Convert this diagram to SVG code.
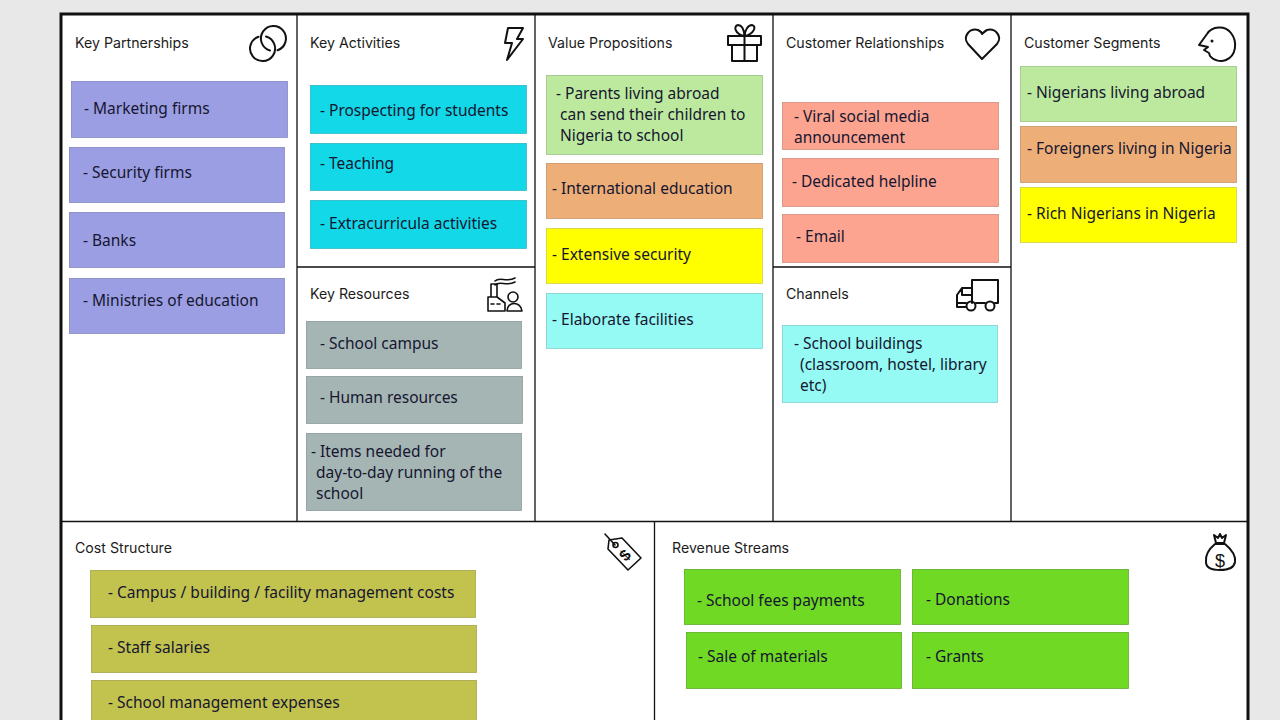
<svg xmlns="http://www.w3.org/2000/svg" width="1280" height="720" viewBox="0 0 1280 720">
<style>
.h{font-family:"Inter","Liberation Sans",sans-serif;font-size:14.2px;fill:#1c1c1c}
.t{font-family:"Noto Sans","Open Sans",sans-serif;font-size:15.5px;fill:#161630}
.ln{stroke:#111;stroke-width:1.3;fill:none}
.ic{stroke:#111;stroke-width:2;fill:none;stroke-linejoin:round;stroke-linecap:round}
.th{stroke-width:1.6}
.s{stroke-width:.8;transform:translate(.4px,.4px)}
.pu{fill:#9b9ee2;stroke:#8488c0}.cy{fill:#12d8e8;stroke:#30b8c4}.gr{fill:#bce99e;stroke:#9cc488}.or{fill:#edae78;stroke:#c89468}.ye{fill:#ffff00;stroke:#d0d040}.aq{fill:#95f9f4;stroke:#80d0cc}.sa{fill:#fca490;stroke:#d08c7c}.gy{fill:#a5b5b4;stroke:#8a9a9a}.ol{fill:#c2c24e;stroke:#a4a448}.lg{fill:#6fd923;stroke:#5cac28}
</style>
<rect width="1280" height="720" fill="#e8e8e8"/>
<rect x="61" y="14" width="1187" height="720" fill="#fff" stroke="#111" stroke-width="3"/>
<g id="connectors">
<path class="ln" d="M297 14V521M535 14V521M773 14V521M1011 14V521M61 521.500H1248M654.500 521V720M297 267H535M773 267H1011"/>
</g>
<g id="key-partnerships">
<text class="h" x="75" y="48">Key Partnerships</text>
<g class="ic"><path d="M266 36.500A12.500 12.500 0 1 1 258.500 36.700"/><path d="M270 50.500A12.500 12.500 0 1 1 277.500 50.300"/></g>
<rect class="pu s" x="71" y="81" width="216" height="56"/><text class="t" x="84" y="114">- Marketing firms</text>
<rect class="pu s" x="69" y="147" width="215" height="55"/><text class="t" x="83" y="178">- Security firms</text>
<rect class="pu s" x="69" y="212" width="215" height="55"/><text class="t" x="83" y="246">- Banks</text>
<rect class="pu s" x="69" y="278" width="215" height="55"/><text class="t" x="83" y="306">- Ministries of education</text>
</g>
<g id="key-activities">
<text class="h" x="310" y="48">Key Activities</text>
<path class="ic" d="M508 28H523L517 39H523L507 60L512 43H505Z"/>
<rect class="cy s" x="310" y="85" width="216" height="48"/><text class="t" x="320" y="116">- Prospecting for students</text>
<rect class="cy s" x="310" y="143" width="216" height="47"/><text class="t" x="320" y="169">- Teaching</text>
<rect class="cy s" x="310" y="200" width="216" height="48"/><text class="t" x="320" y="229">- Extracurricula activities</text>
</g>
<g id="key-resources">
<text class="h" x="310" y="299">Key Resources</text>
<g class="ic th"><path d="M495 281C500 276 506 283 515 278M495 285C500 280 506 287 515 282"/><path d="M491 297V284H497V297M488 311V297H497L505 303V311ZM491 304H494M497 304H500"/><circle cx="513" cy="297" r="5"/><path d="M507 311C507 301 521 301 522 311Z"/></g>
<rect class="gy s" x="306" y="321" width="215" height="47"/><text class="t" x="320" y="349">- School campus</text>
<rect class="gy s" x="306" y="376" width="216" height="47"/><text class="t" x="320" y="403">- Human resources</text>
<rect class="gy s" x="306" y="433" width="215" height="77"/><text class="t" x="311" y="457">- Items needed for</text><text class="t" x="316" y="478">day-to-day running of the</text><text class="t" x="316" y="499">school</text>
</g>
<g id="value-propositions">
<text class="h" x="548" y="48">Value Propositions</text>
<g class="ic"><path d="M728 36H761V45H728ZM732 45V61H757V45M744.500 36V61M744 36C735 34 733 26 738 25C742 25 744 30 744.500 36C745 30 748 25 752 25C757 26 754 34 745 36"/></g>
<rect class="gr s" x="546" y="75" width="216" height="79"/><text class="t" x="556" y="99">- Parents living abroad</text><text class="t" x="560" y="120">can send their children to</text><text class="t" x="560" y="141">Nigeria to school</text>
<rect class="or s" x="546" y="163" width="216" height="55"/><text class="t" x="552" y="194">- International education</text>
<rect class="ye s" x="546" y="228" width="216" height="55"/><text class="t" x="552" y="260">- Extensive security</text>
<rect class="aq s" x="546" y="293" width="216" height="55"/><text class="t" x="552" y="325">- Elaborate facilities</text>
</g>
<g id="customer-relationships">
<text class="h" x="786" y="48">Customer Relationships</text>
<path class="ic" d="M982 59L968 44C962 36 970 28 978 30C980 31 982 33 982 34C983 33 985 31 987 30C995 28 1003 36 997 44Z"/>
<rect class="sa s" x="782" y="102" width="216" height="47"/><text class="t" x="794" y="122">- Viral social media</text><text class="t" x="794" y="143">announcement</text>
<rect class="sa s" x="782" y="158" width="216" height="48"/><text class="t" x="792" y="187">- Dedicated helpline</text>
<rect class="sa s" x="782" y="214" width="216" height="48"/><text class="t" x="796" y="242">- Email</text>
</g>
<g id="channels">
<text class="h" x="786" y="299">Channels</text>
<g class="ic"><path d="M972 303V280H998V303H995M985 303H976M972 288H962L957 295V307H966M962 288V295H971M957 303H966"/><circle cx="971" cy="306" r="4.500"/><circle cx="990" cy="306" r="4.500"/></g>
<rect class="aq s" x="782" y="325" width="215" height="77"/><text class="t" x="794" y="349">- School buildings</text><text class="t" x="800" y="370">(classroom, hostel, library</text><text class="t" x="800" y="391">etc)</text>
</g>
<g id="customer-segments">
<text class="h" x="1024" y="48">Customer Segments</text>
<path class="ic" d="M1207 34C1212 26 1225 25 1231 33C1238 42 1236 56 1226 60C1221 62 1214 61 1210 56L1209 53L1204 50L1208 47L1199 45Z"/><circle cx="1212" cy="41" r="1.500" fill="#111"/>
<rect class="gr s" x="1020" y="66" width="216" height="55"/><text class="t" x="1027" y="98">- Nigerians living abroad</text>
<rect class="or s" x="1020" y="126" width="216" height="56"/><text class="t" x="1027" y="154">- Foreigners living in Nigeria</text>
<rect class="ye s" x="1020" y="187" width="216" height="55"/><text class="t" x="1027" y="219">- Rich Nigerians in Nigeria</text>
</g>
<g id="cost-structure">
<text class="h" x="75" y="553">Cost Structure</text>
<g class="ic th"><path d="M605 534L615 545M609 540L622 538L641 558L628 570L608 549Z"/><circle cx="615.500" cy="545" r="2.500"/></g>
<text x="0" y="0" font-family="Liberation Sans,sans-serif" font-size="16" font-weight="700" fill="#111" text-anchor="middle" transform="translate(629 559) rotate(-45)">$</text>
<rect class="ol s" x="90" y="570" width="385" height="47"/><text class="t" x="108" y="598">- Campus / building / facility management costs</text>
<rect class="ol s" x="91" y="625" width="385" height="47"/><text class="t" x="108" y="653">- Staff salaries</text>
<rect class="ol s" x="91" y="680" width="385" height="47"/><text class="t" x="108" y="708">- School management expenses</text>
</g>
<g id="revenue-streams">
<text class="h" x="672" y="553">Revenue Streams</text>
<path class="ic" d="M1216 543L1214 535L1218 538L1220 534L1222 538L1226 535L1224 543ZM1215 544H1225C1231 549 1236 555 1235 562C1234 568 1228 570 1220 570C1212 570 1206 568 1206 562C1205 555 1209 549 1215 544Z"/>
<text x="1220" y="567" text-anchor="middle" font-family="Liberation Sans,sans-serif" font-size="18" fill="#111">$</text>
<rect class="lg s" x="684" y="569" width="216" height="55"/><text class="t" x="697" y="606">- School fees payments</text>
<rect class="lg s" x="912" y="569" width="216" height="55"/><text class="t" x="926" y="605">- Donations</text>
<rect class="lg s" x="686" y="632" width="215" height="56"/><text class="t" x="698" y="662">- Sale of materials</text>
<rect class="lg s" x="912" y="632" width="216" height="56"/><text class="t" x="926" y="662">- Grants</text>
</g>
</svg>
